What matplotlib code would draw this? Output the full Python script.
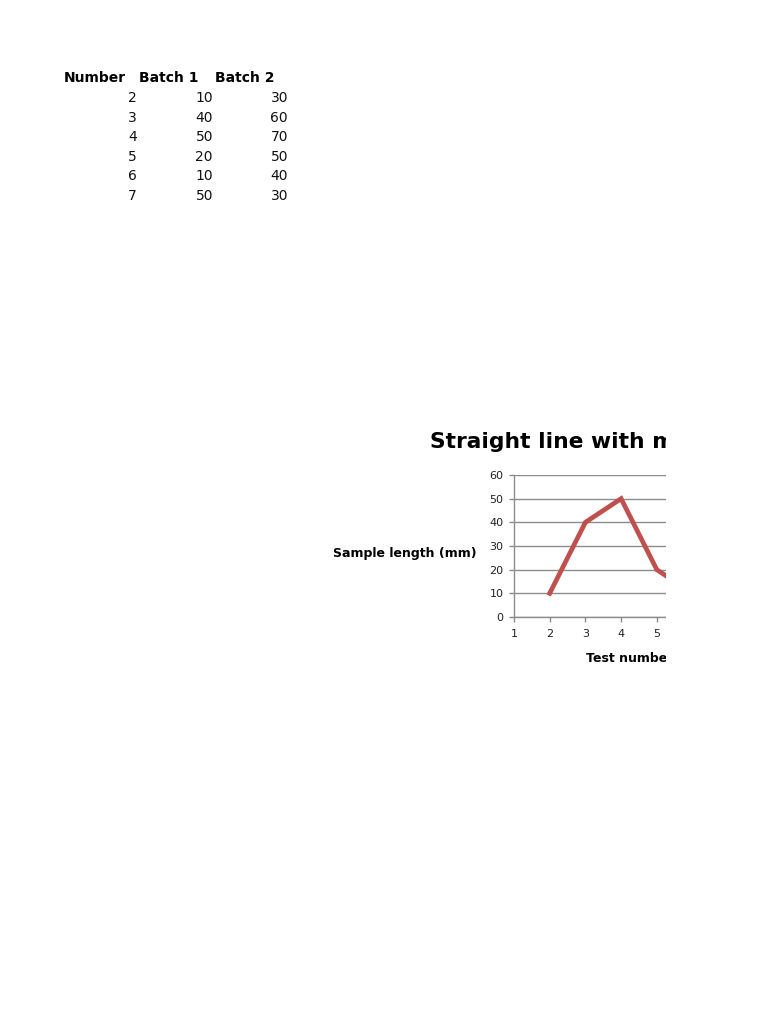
import numpy as np
import matplotlib
matplotlib.use("Agg")
import matplotlib.pyplot as plt
from matplotlib.patches import Rectangle

# sheet data
numbers = [2, 3, 4, 5, 6, 7]
batch_1 = [10, 40, 50, 20, 10, 50]
batch_2 = [30, 60, 70, 50, 40, 30]
headers = ["Number", "Batch 1", "Batch 2"]

title = "Straight line with markers"
y_title = "Sample length (mm)"
x_title = "Test number"

W, H = 768, 1024
fig = plt.figure(figsize=(W / 100, H / 100), dpi=100)
plt.rcParams['font.family'] = ['DejaVu Sans']

def fx(px):
    return px / W

def fy(py):
    return 1 - py / H

# table of values at the top of the sheet
fig.text(fx(64), fy(78), headers[0], fontsize=10, fontweight='bold', va='center', ha='left')
fig.text(fx(139), fy(78), headers[1], fontsize=10, fontweight='bold', va='center', ha='left')
fig.text(fx(215), fy(78), headers[2], fontsize=10, fontweight='bold', va='center', ha='left')
for i in range(len(numbers)):
    y = fy(98 + i * 19.6)
    fig.text(fx(137), y, str(numbers[i]), fontsize=10, va='center', ha='right', color='#111111')
    fig.text(fx(213), y, str(batch_1[i]), fontsize=10, va='center', ha='right', color='#111111')
    fig.text(fx(288), y, str(batch_2[i]), fontsize=10, va='center', ha='right', color='#111111')

# chart, runs past the visible cell range on the right
step = 35.7
ax_left, ax_top, ax_bottom = 514, 475, 617
ax_right = ax_left + 7 * step
ax = fig.add_axes([fx(ax_left), fy(ax_bottom), fx(ax_right - ax_left), (ax_bottom - ax_top) / H])
ax.plot(numbers, batch_1, color='#C0504D', linewidth=3.4, solid_joinstyle='miter', zorder=3)
ax.set_xlim(1, 8)
ax.set_ylim(0, 60)
ax.set_xticks(range(1, 9))
ax.set_yticks(range(0, 61, 10))
ax.grid(axis='y', color='#8c8c8c', linewidth=1)
ax.set_axisbelow(True)
for s in ['top', 'right']:
    ax.spines[s].set_visible(False)
for s in ['left', 'bottom']:
    ax.spines[s].set_color('#8c8c8c')
    ax.spines[s].set_linewidth(1)
ax.tick_params(axis='both', colors='#8c8c8c', labelcolor='#222222', labelsize=8, length=3.5, width=1)
ax.tick_params(axis='y', pad=4)
ax.tick_params(axis='x', pad=5)

fig.text(fx(430), fy(448), title, fontsize=15.7, fontweight='bold', va='baseline', ha='left')
fig.text(fx(477), fy(553), y_title, fontsize=9, fontweight='bold', va='center', ha='right')
fig.text(fx(586), fy(659), x_title, fontsize=9, fontweight='bold', va='center', ha='left')

# the chart is cut off at the edge of the printed area
fig.add_artist(Rectangle((fx(666), 0), 1 - fx(666), 1, transform=fig.transFigure,
                         facecolor='white', edgecolor='none', zorder=100))

fig.savefig("out.png", dpi=100, facecolor='white')
